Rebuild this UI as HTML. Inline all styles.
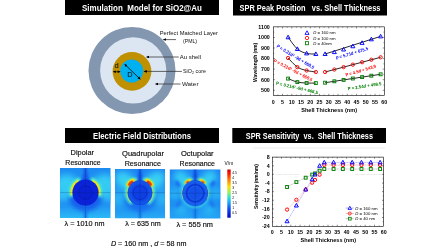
<!DOCTYPE html>
<html><head><meta charset="utf-8"><title>SPR of SiO2@Au core-shell</title>
<style>
html,body{margin:0;padding:0;background:#fff;}
body{width:448px;height:252px;overflow:hidden;font-family:"Liberation Sans",sans-serif;}
svg{display:block;font-family:"Liberation Sans",sans-serif;}
</style></head><body>
<svg width="448" height="252" viewBox="0 0 448 252">
<defs>
<marker id="ah" viewBox="0 0 10 10" refX="7" refY="5" markerWidth="3.5" markerHeight="3.4" orient="auto-start-reverse" markerUnits="userSpaceOnUse"><path d="M0 1.2 L10 5 L0 8.8 z" fill="#000"/></marker>
<marker id="as" viewBox="0 0 10 10" refX="7" refY="5" markerWidth="3.4" markerHeight="3.0" orient="auto-start-reverse" markerUnits="userSpaceOnUse"><path d="M0 0.8 L10 5 L0 9.2 z" fill="#000"/></marker>
<filter id="b1" x="-50%" y="-50%" width="200%" height="200%"><feGaussianBlur stdDeviation="1"/></filter>
<filter id="b2" x="-50%" y="-50%" width="200%" height="200%"><feGaussianBlur stdDeviation="2.2"/></filter>
<filter id="b3" x="-50%" y="-50%" width="200%" height="200%"><feGaussianBlur stdDeviation="3"/></filter>
<filter id="b4" x="-50%" y="-50%" width="200%" height="200%"><feGaussianBlur stdDeviation="4"/></filter>
<filter id="b05" x="-50%" y="-50%" width="200%" height="200%"><feGaussianBlur stdDeviation="0.6"/></filter>
<linearGradient id="jet" x1="0" y1="0" x2="0" y2="1">
<stop offset="0" stop-color="#c80000"/><stop offset="0.08" stop-color="#ff1000"/><stop offset="0.22" stop-color="#ff8000"/><stop offset="0.36" stop-color="#ffe000"/><stop offset="0.48" stop-color="#90f060"/><stop offset="0.58" stop-color="#30e0d0"/><stop offset="0.68" stop-color="#20a8f8"/><stop offset="0.82" stop-color="#1048f0"/><stop offset="1" stop-color="#0008c0"/>
</linearGradient>
<linearGradient id="bg1" x1="0" y1="0" x2="0" y2="1"><stop offset="0" stop-color="#1c88f2"/><stop offset="0.4" stop-color="#2098f3"/><stop offset="0.62" stop-color="#1b80f0"/><stop offset="1" stop-color="#2cbcf6"/></linearGradient>
<linearGradient id="bg2" x1="0" y1="0" x2="0" y2="1"><stop offset="0" stop-color="#1c84f2"/><stop offset="0.4" stop-color="#2094f3"/><stop offset="0.62" stop-color="#1c84f0"/><stop offset="1" stop-color="#28acf5"/></linearGradient>
<linearGradient id="bg3" x1="0" y1="0" x2="0" y2="1"><stop offset="0" stop-color="#1c80f2"/><stop offset="0.4" stop-color="#1f90f3"/><stop offset="0.62" stop-color="#1c88f0"/><stop offset="1" stop-color="#26a4f5"/></linearGradient>
<clipPath id="c1"><rect x="60" y="168" width="50.5" height="50"/></clipPath>
<clipPath id="c2"><rect x="115" y="169" width="50" height="49.3"/></clipPath>
<clipPath id="c3"><rect x="169.8" y="169.4" width="50.6" height="49.2"/></clipPath>
</defs>
<rect width="448" height="252" fill="#fff"/>

<rect x="65" y="0" width="154" height="15" fill="#000"/>
<text x="82" y="10.8" font-size="9.2" font-weight="bold" text-anchor="start" fill="#fff" textLength="120" lengthAdjust="spacingAndGlyphs" >Simulation  Model for SiO2@Au</text>
<rect x="233" y="0" width="154" height="15.5" fill="#000"/>
<text x="239.5" y="11.2" font-size="9.2" font-weight="bold" text-anchor="start" fill="#fff" textLength="141.0" lengthAdjust="spacingAndGlyphs" >SPR Peak Position   vs. Shell Thickness</text>
<rect x="65" y="128" width="154" height="15" fill="#000"/>
<text x="93" y="139" font-size="9.2" font-weight="bold" text-anchor="start" fill="#fff" textLength="98" lengthAdjust="spacingAndGlyphs" >Electric Field Distributions</text>
<rect x="232.3" y="128" width="153.7" height="15" fill="#000"/>
<text x="245.8" y="139" font-size="9.2" font-weight="bold" text-anchor="start" fill="#fff" textLength="127.19999999999999" lengthAdjust="spacingAndGlyphs" >SPR Sensitivity  vs.  Shell Thickness</text>
<circle cx="132" cy="70.5" r="43.5" fill="#8497b0"/>
<circle cx="133.2" cy="70.3" r="33.1" fill="#dce6f2"/>
<circle cx="132" cy="71.4" r="19.4" fill="#bf9000"/>
<circle cx="131.7" cy="71" r="11.5" fill="#00b0f0"/>
<line x1="113.7" y1="71.7" x2="119.7" y2="71.7" stroke="#000" stroke-width="0.6" marker-start="url(#as)" marker-end="url(#as)"/>
<line x1="125.0" y1="64.56" x2="140.0" y2="78.94" stroke="#000" stroke-width="0.8" marker-start="url(#ah)" marker-end="url(#ah)"/>
<text x="116.6" y="67.6" font-size="7.6" font-weight="normal" text-anchor="middle" fill="#000" >d</text>
<text x="129.8" y="77" font-size="7.4" font-weight="normal" text-anchor="middle" fill="#000" >D</text>
<text x="159.7" y="35.4" font-size="6.2" font-weight="normal" text-anchor="start" fill="#111" textLength="58.3" lengthAdjust="spacingAndGlyphs" >Perfect Matched Layer</text>
<text x="190" y="42.7" font-size="6.2" font-weight="normal" text-anchor="middle" fill="#111" textLength="14" lengthAdjust="spacingAndGlyphs" >(PML)</text>
<line x1="163.7" y1="39.6" x2="176" y2="39.6" stroke="#333" stroke-width="0.75" marker-start="url(#ah)"/>
<line x1="146.8" y1="57" x2="178.8" y2="57" stroke="#333" stroke-width="0.75" marker-start="url(#ah)"/>
<text x="179.7" y="59" font-size="6.2" font-weight="normal" text-anchor="start" fill="#111" textLength="21.3" lengthAdjust="spacingAndGlyphs" >Au shell</text>
<line x1="144.5" y1="71.4" x2="181.9" y2="71.4" stroke="#333" stroke-width="0.75" marker-start="url(#ah)"/>
<text x="183" y="73.4" font-size="6.2" fill="#111" textLength="23" lengthAdjust="spacingAndGlyphs">SiO<tspan font-size="4.2" dy="1">2</tspan><tspan dy="-1"> core</tspan></text>
<line x1="155.7" y1="84" x2="180.6" y2="84" stroke="#333" stroke-width="0.75" marker-start="url(#ah)"/>
<text x="181.9" y="86" font-size="6.2" font-weight="normal" text-anchor="start" fill="#111" textLength="16.6" lengthAdjust="spacingAndGlyphs" >Water</text>
<rect x="273.3" y="26.85" width="111.0" height="68.55000000000001" fill="#fff" stroke="#000" stroke-width="0.6"/>
<path d="M277.93 95.4v-0.9M277.93 26.85v0.9M282.55 95.4v-1.6M282.55 26.85v1.6M287.18 95.4v-0.9M287.18 26.85v0.9M291.80 95.4v-1.6M291.80 26.85v1.6M296.43 95.4v-0.9M296.43 26.85v0.9M301.05 95.4v-1.6M301.05 26.85v1.6M305.68 95.4v-0.9M305.68 26.85v0.9M310.30 95.4v-1.6M310.30 26.85v1.6M314.93 95.4v-0.9M314.93 26.85v0.9M319.55 95.4v-1.6M319.55 26.85v1.6M324.18 95.4v-0.9M324.18 26.85v0.9M328.80 95.4v-1.6M328.80 26.85v1.6M333.43 95.4v-0.9M333.43 26.85v0.9M338.05 95.4v-1.6M338.05 26.85v1.6M342.68 95.4v-0.9M342.68 26.85v0.9M347.30 95.4v-1.6M347.30 26.85v1.6M351.93 95.4v-0.9M351.93 26.85v0.9M356.55 95.4v-1.6M356.55 26.85v1.6M361.18 95.4v-0.9M361.18 26.85v0.9M365.80 95.4v-1.6M365.80 26.85v1.6M370.43 95.4v-0.9M370.43 26.85v0.9M375.05 95.4v-1.6M375.05 26.85v1.6M379.68 95.4v-0.9M379.68 26.85v0.9M273.3 90.27h1.6M384.3 90.27h-1.6M273.3 84.98h0.9M384.3 84.98h-0.9M273.3 79.70h1.6M384.3 79.70h-1.6M273.3 74.41h0.9M384.3 74.41h-0.9M273.3 69.13h1.6M384.3 69.13h-1.6M273.3 63.84h0.9M384.3 63.84h-0.9M273.3 58.56h1.6M384.3 58.56h-1.6M273.3 53.28h0.9M384.3 53.28h-0.9M273.3 47.99h1.6M384.3 47.99h-1.6M273.3 42.70h0.9M384.3 42.70h-0.9M273.3 37.42h1.6M384.3 37.42h-1.6M273.3 32.14h0.9M384.3 32.14h-0.9" stroke="#000" stroke-width="0.45" fill="none"/>
<text x="269.8" y="92.07" font-size="5.3" font-weight="bold" text-anchor="end" fill="#000" >500</text>
<text x="269.8" y="81.5" font-size="5.3" font-weight="bold" text-anchor="end" fill="#000" >600</text>
<text x="269.8" y="70.93" font-size="5.3" font-weight="bold" text-anchor="end" fill="#000" >700</text>
<text x="269.8" y="60.36" font-size="5.3" font-weight="bold" text-anchor="end" fill="#000" >800</text>
<text x="269.8" y="49.79" font-size="5.3" font-weight="bold" text-anchor="end" fill="#000" >900</text>
<text x="269.8" y="39.22" font-size="5.3" font-weight="bold" text-anchor="end" fill="#000" >1000</text>
<text x="269.8" y="28.65" font-size="5.3" font-weight="bold" text-anchor="end" fill="#000" >1100</text>
<text x="273.3" y="103.6" font-size="5.3" font-weight="bold" text-anchor="middle" fill="#000" >0</text>
<text x="282.55" y="103.6" font-size="5.3" font-weight="bold" text-anchor="middle" fill="#000" >5</text>
<text x="291.8" y="103.6" font-size="5.3" font-weight="bold" text-anchor="middle" fill="#000" >10</text>
<text x="301.05" y="103.6" font-size="5.3" font-weight="bold" text-anchor="middle" fill="#000" >15</text>
<text x="310.3" y="103.6" font-size="5.3" font-weight="bold" text-anchor="middle" fill="#000" >20</text>
<text x="319.55" y="103.6" font-size="5.3" font-weight="bold" text-anchor="middle" fill="#000" >25</text>
<text x="328.8" y="103.6" font-size="5.3" font-weight="bold" text-anchor="middle" fill="#000" >30</text>
<text x="338.05" y="103.6" font-size="5.3" font-weight="bold" text-anchor="middle" fill="#000" >35</text>
<text x="347.3" y="103.6" font-size="5.3" font-weight="bold" text-anchor="middle" fill="#000" >40</text>
<text x="356.55" y="103.6" font-size="5.3" font-weight="bold" text-anchor="middle" fill="#000" >45</text>
<text x="365.8" y="103.6" font-size="5.3" font-weight="bold" text-anchor="middle" fill="#000" >50</text>
<text x="375.05" y="103.6" font-size="5.3" font-weight="bold" text-anchor="middle" fill="#000" >55</text>
<text x="384.3" y="103.6" font-size="5.3" font-weight="bold" text-anchor="middle" fill="#000" >60</text>
<text x="329.1" y="111.6" font-size="5.7" font-weight="bold" text-anchor="middle" fill="#000" textLength="55.8" lengthAdjust="spacingAndGlyphs" >Shell Thickness (nm)</text>
<text x="257" y="62.4" font-size="5.7" font-weight="bold" text-anchor="middle" fill="#000" textLength="39" lengthAdjust="spacingAndGlyphs" transform="rotate(-90 257 62.4)" >Wavelength (nm)</text>
<path d="M288.10 37.30C289.64 39.25 294.27 46.32 297.35 49.00C300.43 51.68 303.52 52.57 306.60 53.40C309.68 54.23 314.31 53.90 315.85 54.00" fill="none" stroke="#111" stroke-width="0.9"/>
<line x1="325.10" y1="54.00" x2="380.60" y2="36.40" stroke="#111" stroke-width="0.9"/>
<path d="M288.10 35.20L290.10 38.80L286.10 38.80z" fill="none" stroke="#0000ff" stroke-width="0.95" stroke-linejoin="miter"/>
<path d="M297.35 46.90L299.35 50.50L295.35 50.50z" fill="none" stroke="#0000ff" stroke-width="0.95" stroke-linejoin="miter"/>
<path d="M306.60 51.30L308.60 54.90L304.60 54.90z" fill="none" stroke="#0000ff" stroke-width="0.95" stroke-linejoin="miter"/>
<path d="M315.85 51.90L317.85 55.50L313.85 55.50z" fill="none" stroke="#0000ff" stroke-width="0.95" stroke-linejoin="miter"/>
<path d="M325.10 51.90L327.10 55.50L323.10 55.50z" fill="none" stroke="#0000ff" stroke-width="0.95" stroke-linejoin="miter"/>
<path d="M334.35 50.00L336.35 53.60L332.35 53.60z" fill="none" stroke="#0000ff" stroke-width="0.95" stroke-linejoin="miter"/>
<path d="M343.60 47.40L345.60 51.00L341.60 51.00z" fill="none" stroke="#0000ff" stroke-width="0.95" stroke-linejoin="miter"/>
<path d="M352.85 44.15L354.85 47.75L350.85 47.75z" fill="none" stroke="#0000ff" stroke-width="0.95" stroke-linejoin="miter"/>
<path d="M362.10 40.80L364.10 44.40L360.10 44.40z" fill="none" stroke="#0000ff" stroke-width="0.95" stroke-linejoin="miter"/>
<path d="M371.35 37.20L373.35 40.80L369.35 40.80z" fill="none" stroke="#0000ff" stroke-width="0.95" stroke-linejoin="miter"/>
<path d="M380.60 34.30L382.60 37.90L378.60 37.90z" fill="none" stroke="#0000ff" stroke-width="0.95" stroke-linejoin="miter"/>
<path d="M288.10 58.00C289.64 59.52 294.27 65.02 297.35 67.10C300.43 69.18 303.52 69.68 306.60 70.50C309.68 71.32 314.31 71.75 315.85 72.00" fill="none" stroke="#111" stroke-width="0.9"/>
<line x1="325.10" y1="72.00" x2="380.60" y2="57.30" stroke="#111" stroke-width="0.9"/>
<circle cx="288.10" cy="58.00" r="1.65" fill="none" stroke="#ff0000" stroke-width="0.95"/>
<circle cx="297.35" cy="67.10" r="1.65" fill="none" stroke="#ff0000" stroke-width="0.95"/>
<circle cx="306.60" cy="70.50" r="1.65" fill="none" stroke="#ff0000" stroke-width="0.95"/>
<circle cx="315.85" cy="72.00" r="1.65" fill="none" stroke="#ff0000" stroke-width="0.95"/>
<circle cx="325.10" cy="72.00" r="1.65" fill="none" stroke="#ff0000" stroke-width="0.95"/>
<circle cx="334.35" cy="69.55" r="1.65" fill="none" stroke="#ff0000" stroke-width="0.95"/>
<circle cx="343.60" cy="67.10" r="1.65" fill="none" stroke="#ff0000" stroke-width="0.95"/>
<circle cx="352.85" cy="64.65" r="1.65" fill="none" stroke="#ff0000" stroke-width="0.95"/>
<circle cx="362.10" cy="62.20" r="1.65" fill="none" stroke="#ff0000" stroke-width="0.95"/>
<circle cx="371.35" cy="59.75" r="1.65" fill="none" stroke="#ff0000" stroke-width="0.95"/>
<circle cx="380.60" cy="57.30" r="1.65" fill="none" stroke="#ff0000" stroke-width="0.95"/>
<path d="M288.10 78.60C289.64 79.18 294.27 81.37 297.35 82.10C300.43 82.83 303.52 82.83 306.60 83.00C309.68 83.17 314.31 83.08 315.85 83.10" fill="none" stroke="#111" stroke-width="0.9"/>
<line x1="325.10" y1="82.70" x2="380.60" y2="74.30" stroke="#111" stroke-width="0.9"/>
<rect x="286.65" y="77.15" width="2.9" height="2.9" fill="none" stroke="#008000" stroke-width="0.95"/>
<rect x="295.90" y="80.65" width="2.9" height="2.9" fill="none" stroke="#008000" stroke-width="0.95"/>
<rect x="305.15" y="81.55" width="2.9" height="2.9" fill="none" stroke="#008000" stroke-width="0.95"/>
<rect x="314.40" y="81.65" width="2.9" height="2.9" fill="none" stroke="#008000" stroke-width="0.95"/>
<rect x="323.65" y="81.25" width="2.9" height="2.9" fill="none" stroke="#008000" stroke-width="0.95"/>
<rect x="332.90" y="79.85" width="2.9" height="2.9" fill="none" stroke="#008000" stroke-width="0.95"/>
<rect x="342.15" y="78.45" width="2.9" height="2.9" fill="none" stroke="#008000" stroke-width="0.95"/>
<rect x="351.40" y="77.05" width="2.9" height="2.9" fill="none" stroke="#008000" stroke-width="0.95"/>
<rect x="360.65" y="75.65" width="2.9" height="2.9" fill="none" stroke="#008000" stroke-width="0.95"/>
<rect x="369.90" y="74.25" width="2.9" height="2.9" fill="none" stroke="#008000" stroke-width="0.95"/>
<rect x="379.15" y="72.85" width="2.9" height="2.9" fill="none" stroke="#008000" stroke-width="0.95"/>
<text x="295.4" y="56.9" font-size="4.6" font-weight="bold" text-anchor="middle" fill="#0000ff" textLength="43" lengthAdjust="spacingAndGlyphs" transform="rotate(31 295.4 56.9)" dy="1.4">P = 0.21d<tspan font-size="2.8" dy="-1.2">2</tspan><tspan dy="1.2"> -9d + 668.5</tspan></text>
<text x="293" y="70.4" font-size="4.6" font-weight="bold" text-anchor="middle" fill="#ff0000" textLength="43" lengthAdjust="spacingAndGlyphs" transform="rotate(27.5 293 70.4)" dy="1.4">P = 0.21d<tspan font-size="2.8" dy="-1.2">2</tspan><tspan dy="1.2"> -9d + 668.5</tspan></text>
<text x="297" y="88" font-size="4.6" font-weight="bold" text-anchor="middle" fill="#008000" textLength="43" lengthAdjust="spacingAndGlyphs" transform="rotate(13 297 88)" dy="1.4">P = 0.21d<tspan font-size="2.8" dy="-1.2">2</tspan><tspan dy="1.2"> -9d + 668.5</tspan></text>
<text x="352" y="53.5" font-size="4.6" font-weight="bold" text-anchor="middle" fill="#0000ff" textLength="33.5" lengthAdjust="spacingAndGlyphs" transform="rotate(-17 352 53.5)" dy="1.4">P = 5.71d + 675.5</text>
<text x="360.8" y="70.8" font-size="4.6" font-weight="bold" text-anchor="middle" fill="#ff0000" textLength="31.5" lengthAdjust="spacingAndGlyphs" transform="rotate(-16.5 360.8 70.8)" dy="1.4">P = 4.5d + 543.9</text>
<text x="364.6" y="86.3" font-size="4.6" font-weight="bold" text-anchor="middle" fill="#008000" textLength="34" lengthAdjust="spacingAndGlyphs" transform="rotate(-9 364.6 86.3)" dy="1.4">P = 2.54d + 498.5</text>
<path d="M307.00 30.80L309.00 34.40L305.00 34.40z" fill="none" stroke="#0000ff" stroke-width="0.85" stroke-linejoin="miter"/>
<text x="313.2" y="34.4" font-size="4.3" fill="#000"><tspan font-style="italic">D</tspan> = 160 nm</text>
<circle cx="307.00" cy="38.00" r="1.7" fill="none" stroke="#ff0000" stroke-width="0.85"/>
<text x="313.2" y="39.5" font-size="4.3" fill="#000"><tspan font-style="italic">D</tspan> = 100 nm</text>
<rect x="305.45" y="41.65" width="3.1" height="3.1" fill="none" stroke="#008000" stroke-width="0.85"/>
<text x="313.2" y="44.7" font-size="4.3" fill="#000"><tspan font-style="italic">D</tspan> = 40nm</text>
<rect x="253" y="147.2" width="132" height="1.6" fill="#f4f4f4"/>
<rect x="272.3" y="157.1" width="111.30000000000001" height="69.20000000000002" fill="#fff" stroke="#000" stroke-width="0.6"/>
<path d="M276.85 226.3v-0.9M276.85 157.1v0.9M281.50 226.3v-1.6M281.50 157.1v1.6M286.15 226.3v-0.9M286.15 157.1v0.9M290.80 226.3v-1.6M290.80 157.1v1.6M295.45 226.3v-0.9M295.45 157.1v0.9M300.10 226.3v-1.6M300.10 157.1v1.6M304.75 226.3v-0.9M304.75 157.1v0.9M309.40 226.3v-1.6M309.40 157.1v1.6M314.05 226.3v-0.9M314.05 157.1v0.9M318.70 226.3v-1.6M318.70 157.1v1.6M323.35 226.3v-0.9M323.35 157.1v0.9M328.00 226.3v-1.6M328.00 157.1v1.6M332.65 226.3v-0.9M332.65 157.1v0.9M337.30 226.3v-1.6M337.30 157.1v1.6M341.95 226.3v-0.9M341.95 157.1v0.9M346.60 226.3v-1.6M346.60 157.1v1.6M351.25 226.3v-0.9M351.25 157.1v0.9M355.90 226.3v-1.6M355.90 157.1v1.6M360.55 226.3v-0.9M360.55 157.1v0.9M365.20 226.3v-1.6M365.20 157.1v1.6M369.85 226.3v-0.9M369.85 157.1v0.9M374.50 226.3v-1.6M374.50 157.1v1.6M379.15 226.3v-0.9M379.15 157.1v0.9M272.3 221.83h0.9M383.6 221.83h-0.9M272.3 217.52h1.6M383.6 217.52h-1.6M272.3 213.21h0.9M383.6 213.21h-0.9M272.3 208.90h1.6M383.6 208.90h-1.6M272.3 204.58h0.9M383.6 204.58h-0.9M272.3 200.27h1.6M383.6 200.27h-1.6M272.3 195.96h0.9M383.6 195.96h-0.9M272.3 191.65h1.6M383.6 191.65h-1.6M272.3 187.34h0.9M383.6 187.34h-0.9M272.3 183.02h1.6M383.6 183.02h-1.6M272.3 178.71h0.9M383.6 178.71h-0.9M272.3 174.40h1.6M383.6 174.40h-1.6M272.3 170.09h0.9M383.6 170.09h-0.9M272.3 165.78h1.6M383.6 165.78h-1.6M272.3 161.46h0.9M383.6 161.46h-0.9" stroke="#000" stroke-width="0.45" fill="none"/>
<text x="269.6" y="227.94" font-size="5.3" font-weight="bold" text-anchor="end" fill="#000" >-24</text>
<text x="269.6" y="219.32" font-size="5.3" font-weight="bold" text-anchor="end" fill="#000" >-20</text>
<text x="269.6" y="210.7" font-size="5.3" font-weight="bold" text-anchor="end" fill="#000" >-16</text>
<text x="269.6" y="202.07" font-size="5.3" font-weight="bold" text-anchor="end" fill="#000" >-12</text>
<text x="269.6" y="193.45" font-size="5.3" font-weight="bold" text-anchor="end" fill="#000" >-8</text>
<text x="269.6" y="184.82" font-size="5.3" font-weight="bold" text-anchor="end" fill="#000" >-4</text>
<text x="269.6" y="176.2" font-size="5.3" font-weight="bold" text-anchor="end" fill="#000" >0</text>
<text x="269.6" y="167.58" font-size="5.3" font-weight="bold" text-anchor="end" fill="#000" >4</text>
<text x="269.6" y="158.95" font-size="5.3" font-weight="bold" text-anchor="end" fill="#000" >8</text>
<text x="272.2" y="233.7" font-size="5.3" font-weight="bold" text-anchor="middle" fill="#000" >0</text>
<text x="281.5" y="233.7" font-size="5.3" font-weight="bold" text-anchor="middle" fill="#000" >5</text>
<text x="290.8" y="233.7" font-size="5.3" font-weight="bold" text-anchor="middle" fill="#000" >10</text>
<text x="300.1" y="233.7" font-size="5.3" font-weight="bold" text-anchor="middle" fill="#000" >15</text>
<text x="309.4" y="233.7" font-size="5.3" font-weight="bold" text-anchor="middle" fill="#000" >20</text>
<text x="318.7" y="233.7" font-size="5.3" font-weight="bold" text-anchor="middle" fill="#000" >25</text>
<text x="328.0" y="233.7" font-size="5.3" font-weight="bold" text-anchor="middle" fill="#000" >30</text>
<text x="337.3" y="233.7" font-size="5.3" font-weight="bold" text-anchor="middle" fill="#000" >35</text>
<text x="346.6" y="233.7" font-size="5.3" font-weight="bold" text-anchor="middle" fill="#000" >40</text>
<text x="355.9" y="233.7" font-size="5.3" font-weight="bold" text-anchor="middle" fill="#000" >45</text>
<text x="365.2" y="233.7" font-size="5.3" font-weight="bold" text-anchor="middle" fill="#000" >50</text>
<text x="374.5" y="233.7" font-size="5.3" font-weight="bold" text-anchor="middle" fill="#000" >55</text>
<text x="383.8" y="233.7" font-size="5.3" font-weight="bold" text-anchor="middle" fill="#000" >60</text>
<text x="328.3" y="242.2" font-size="5.7" font-weight="bold" text-anchor="middle" fill="#000" textLength="55.4" lengthAdjust="spacingAndGlyphs" >Shell Thickness (nm)</text>
<text x="257.7" y="186.5" font-size="5.9" font-weight="bold" text-anchor="middle" fill="#000" textLength="45" lengthAdjust="spacingAndGlyphs" transform="rotate(-90 257.7 186.5)" >Sensitivity (nm/nm)</text>
<path d="M275.7 174.5H299.8M355 174.5H383" stroke="#bbb" stroke-width="0.5" stroke-dasharray="0.6 0.6"/>
<polyline points="287.08,187.00 296.38,182.10 305.68,177.70 312.19,174.60 314.98,173.40 319.63,170.70 324.28,169.00 333.58,169.00 342.88,169.00 352.18,169.00 361.48,169.00 370.78,169.00 380.08,169.00" fill="none" stroke="#888" stroke-width="0.5" stroke-dasharray="1 0.5"/>
<polyline points="287.08,209.60 296.38,199.80 305.68,189.50 312.19,182.70 314.98,180.00 319.63,174.70 324.28,165.00 333.58,165.00 342.88,165.00 352.18,165.00 361.48,165.00 370.78,165.00 380.08,165.00" fill="none" stroke="#ff7070" stroke-width="0.5" stroke-dasharray="1 0.5"/>
<polyline points="287.08,221.25 296.38,205.50 305.68,189.50 312.19,179.30 314.98,174.50 319.63,165.80 324.28,162.40 333.58,162.40 342.88,162.40 352.18,162.40 361.48,162.40 370.78,162.40 380.08,162.40" fill="none" stroke="#6060ff" stroke-width="0.5" stroke-dasharray="1 0.5"/>
<rect x="285.63" y="185.55" width="2.9" height="2.9" fill="none" stroke="#008000" stroke-width="0.95"/>
<rect x="294.93" y="180.65" width="2.9" height="2.9" fill="none" stroke="#008000" stroke-width="0.95"/>
<rect x="304.23" y="176.25" width="2.9" height="2.9" fill="none" stroke="#008000" stroke-width="0.95"/>
<rect x="310.74" y="173.15" width="2.9" height="2.9" fill="none" stroke="#008000" stroke-width="0.95"/>
<rect x="313.53" y="171.95" width="2.9" height="2.9" fill="none" stroke="#008000" stroke-width="0.95"/>
<rect x="318.18" y="169.25" width="2.9" height="2.9" fill="none" stroke="#008000" stroke-width="0.95"/>
<rect x="322.83" y="167.55" width="2.9" height="2.9" fill="none" stroke="#008000" stroke-width="0.95"/>
<rect x="332.13" y="167.55" width="2.9" height="2.9" fill="none" stroke="#008000" stroke-width="0.95"/>
<rect x="341.43" y="167.55" width="2.9" height="2.9" fill="none" stroke="#008000" stroke-width="0.95"/>
<rect x="350.73" y="167.55" width="2.9" height="2.9" fill="none" stroke="#008000" stroke-width="0.95"/>
<rect x="360.03" y="167.55" width="2.9" height="2.9" fill="none" stroke="#008000" stroke-width="0.95"/>
<rect x="369.33" y="167.55" width="2.9" height="2.9" fill="none" stroke="#008000" stroke-width="0.95"/>
<rect x="378.63" y="167.55" width="2.9" height="2.9" fill="none" stroke="#008000" stroke-width="0.95"/>
<circle cx="287.08" cy="209.60" r="1.65" fill="none" stroke="#ff0000" stroke-width="0.95"/>
<circle cx="296.38" cy="199.80" r="1.65" fill="none" stroke="#ff0000" stroke-width="0.95"/>
<circle cx="305.68" cy="189.50" r="1.65" fill="none" stroke="#ff0000" stroke-width="0.95"/>
<circle cx="312.19" cy="182.70" r="1.65" fill="none" stroke="#ff0000" stroke-width="0.95"/>
<circle cx="314.98" cy="180.00" r="1.65" fill="none" stroke="#ff0000" stroke-width="0.95"/>
<circle cx="319.63" cy="174.70" r="1.65" fill="none" stroke="#ff0000" stroke-width="0.95"/>
<circle cx="324.28" cy="165.00" r="1.65" fill="none" stroke="#ff0000" stroke-width="0.95"/>
<circle cx="333.58" cy="165.00" r="1.65" fill="none" stroke="#ff0000" stroke-width="0.95"/>
<circle cx="342.88" cy="165.00" r="1.65" fill="none" stroke="#ff0000" stroke-width="0.95"/>
<circle cx="352.18" cy="165.00" r="1.65" fill="none" stroke="#ff0000" stroke-width="0.95"/>
<circle cx="361.48" cy="165.00" r="1.65" fill="none" stroke="#ff0000" stroke-width="0.95"/>
<circle cx="370.78" cy="165.00" r="1.65" fill="none" stroke="#ff0000" stroke-width="0.95"/>
<circle cx="380.08" cy="165.00" r="1.65" fill="none" stroke="#ff0000" stroke-width="0.95"/>
<path d="M287.08 219.15L289.08 222.75L285.08 222.75z" fill="none" stroke="#0000ff" stroke-width="0.95" stroke-linejoin="miter"/>
<path d="M296.38 203.40L298.38 207.00L294.38 207.00z" fill="none" stroke="#0000ff" stroke-width="0.95" stroke-linejoin="miter"/>
<path d="M305.68 187.40L307.68 191.00L303.68 191.00z" fill="none" stroke="#0000ff" stroke-width="0.95" stroke-linejoin="miter"/>
<path d="M312.19 177.20L314.19 180.80L310.19 180.80z" fill="none" stroke="#0000ff" stroke-width="0.95" stroke-linejoin="miter"/>
<path d="M314.98 172.40L316.98 176.00L312.98 176.00z" fill="none" stroke="#0000ff" stroke-width="0.95" stroke-linejoin="miter"/>
<path d="M319.63 163.70L321.63 167.30L317.63 167.30z" fill="none" stroke="#0000ff" stroke-width="0.95" stroke-linejoin="miter"/>
<path d="M324.28 160.30L326.28 163.90L322.28 163.90z" fill="none" stroke="#0000ff" stroke-width="0.95" stroke-linejoin="miter"/>
<path d="M333.58 160.30L335.58 163.90L331.58 163.90z" fill="none" stroke="#0000ff" stroke-width="0.95" stroke-linejoin="miter"/>
<path d="M342.88 160.30L344.88 163.90L340.88 163.90z" fill="none" stroke="#0000ff" stroke-width="0.95" stroke-linejoin="miter"/>
<path d="M352.18 160.30L354.18 163.90L350.18 163.90z" fill="none" stroke="#0000ff" stroke-width="0.95" stroke-linejoin="miter"/>
<path d="M361.48 160.30L363.48 163.90L359.48 163.90z" fill="none" stroke="#0000ff" stroke-width="0.95" stroke-linejoin="miter"/>
<path d="M370.78 160.30L372.78 163.90L368.78 163.90z" fill="none" stroke="#0000ff" stroke-width="0.95" stroke-linejoin="miter"/>
<path d="M380.08 160.30L382.08 163.90L378.08 163.90z" fill="none" stroke="#0000ff" stroke-width="0.95" stroke-linejoin="miter"/>
<line x1="345.7" y1="208.1" x2="353.8" y2="208.1" stroke="#6060ff" stroke-width="0.5"/>
<path d="M349.80 206.21L351.60 209.45L348.00 209.45z" fill="none" stroke="#0000ff" stroke-width="0.8" stroke-linejoin="miter"/>
<text x="355.2" y="209.6" font-size="4.3" fill="#000"><tspan font-style="italic">D</tspan> = 160 nm</text>
<line x1="345.7" y1="213.5" x2="353.8" y2="213.5" stroke="#ff7070" stroke-width="0.5"/>
<circle cx="349.80" cy="213.50" r="1.5" fill="none" stroke="#ff0000" stroke-width="0.8"/>
<text x="355.2" y="215.0" font-size="4.3" fill="#000"><tspan font-style="italic">D</tspan> = 100 nm</text>
<line x1="345.7" y1="218.7" x2="353.8" y2="218.7" stroke="#888" stroke-width="0.5"/>
<rect x="348.40" y="217.30" width="2.8" height="2.8" fill="none" stroke="#008000" stroke-width="0.8"/>
<text x="355.2" y="220.2" font-size="4.3" fill="#000"><tspan font-style="italic">D</tspan> = 40 nm</text>
<g clip-path="url(#c1)">
<rect x="59" y="167" width="52.5" height="52" fill="url(#bg1)"/>
<ellipse cx="66.50" cy="186.60" rx="12" ry="12" fill="#36ccf4" filter="url(#b3)" opacity="1" transform="rotate(0.0 66.50 186.60)"/>
<ellipse cx="61.50" cy="195.60" rx="7" ry="6" fill="#30c0f4" filter="url(#b3)" opacity="0.9" transform="rotate(0.0 61.50 195.60)"/>
<ellipse cx="104.50" cy="186.60" rx="12" ry="12" fill="#36ccf4" filter="url(#b3)" opacity="1" transform="rotate(0.0 104.50 186.60)"/>
<ellipse cx="109.50" cy="195.60" rx="7" ry="6" fill="#30c0f4" filter="url(#b3)" opacity="0.9" transform="rotate(0.0 109.50 195.60)"/>
<ellipse cx="85.50" cy="198.60" rx="15.5" ry="12.5" fill="#1560ec" filter="url(#b2)" opacity="1" transform="rotate(0.0 85.50 198.60)"/>
<path d="M84.7 166L86.3 166L89.5 183.6L81.5 183.6z" fill="#1456e8" filter="url(#b1)"/>
<rect x="83.9" y="202.6" width="3.2" height="20" fill="#1970ee" filter="url(#b1)" opacity="0.8"/>
<path d="M71.02 195.15A14.7 14.7 0 0 1 78.15 179.87" stroke="#58ecc0" stroke-width="4.2" fill="none" filter="url(#b1)" stroke-linecap="round" opacity="1"/>
<path d="M71.58 194.06A14.0 14.0 0 0 1 77.67 180.99" stroke="#c8f040" stroke-width="2.4" fill="none" filter="url(#b05)" stroke-linecap="round" opacity="1"/>
<path d="M71.91 193.07A13.6 13.6 0 0 1 77.13 181.88" stroke="#ffe000" stroke-width="1.5" fill="none" filter="url(#b05)" stroke-linecap="round" opacity="1"/>
<path d="M99.98 195.15A14.7 14.7 0 0 0 92.85 179.87" stroke="#58ecc0" stroke-width="4.2" fill="none" filter="url(#b1)" stroke-linecap="round" opacity="1"/>
<path d="M99.42 194.06A14.0 14.0 0 0 0 93.33 180.99" stroke="#c8f040" stroke-width="2.4" fill="none" filter="url(#b05)" stroke-linecap="round" opacity="1"/>
<path d="M99.09 193.07A13.6 13.6 0 0 0 93.87 181.88" stroke="#ffe000" stroke-width="1.5" fill="none" filter="url(#b05)" stroke-linecap="round" opacity="1"/>
<circle cx="85.5" cy="192.6" r="13.1" fill="#0a22d8"/>
<circle cx="85.5" cy="192.6" r="6.8" fill="#0a20d4" stroke="#061c98" stroke-width="0.5"/>
<path d="M85.5 168V218M60 192.6H110.5" stroke="#04246a" stroke-width="0.4" opacity="0.55"/>
</g>
<g clip-path="url(#c2)">
<rect x="114" y="168" width="52" height="51.3" fill="url(#bg2)"/>
<ellipse cx="125.00" cy="180.70" rx="11" ry="8" fill="#38d0f4" filter="url(#b3)" opacity="1" transform="rotate(40.0 125.00 180.70)"/>
<ellipse cx="118.00" cy="198.70" rx="7" ry="8" fill="#2cb8f4" filter="url(#b3)" opacity="0.9" transform="rotate(0.0 118.00 198.70)"/>
<ellipse cx="155.00" cy="180.70" rx="11" ry="8" fill="#38d0f4" filter="url(#b3)" opacity="1" transform="rotate(-40.0 155.00 180.70)"/>
<ellipse cx="162.00" cy="198.70" rx="7" ry="8" fill="#2cb8f4" filter="url(#b3)" opacity="0.9" transform="rotate(0.0 162.00 198.70)"/>
<ellipse cx="140.00" cy="201.70" rx="14" ry="10" fill="#1766ee" filter="url(#b2)" opacity="0.8" transform="rotate(0.0 140.00 201.70)"/>
<path d="M139.2 167L140.8 167L143 183.7L137 183.7z" fill="#1250e6" filter="url(#b1)"/>
<rect x="138.6" y="202.7" width="2.8" height="20" fill="#1970ee" filter="url(#b1)" opacity="0.7"/>
<path d="M130.90 202.81A13.6 13.6 0 0 1 135.80 179.77" stroke="#50e8c8" stroke-width="3.2" fill="none" filter="url(#b1)" stroke-linecap="round" opacity="1"/>
<path d="M130.41 201.33A12.9 12.9 0 0 1 128.83 186.25" stroke="#d0f038" stroke-width="1.1" fill="none" filter="url(#b05)" stroke-linecap="round" opacity="1"/>
<ellipse cx="130.86" cy="182.90" rx="6" ry="3.8" fill="#70f0a0" filter="url(#b1)" opacity="1" transform="rotate(-43.0 130.86 182.90)"/>
<ellipse cx="130.86" cy="182.90" rx="5" ry="2.8" fill="#ffd800" filter="url(#b05)" opacity="1" transform="rotate(-43.0 130.86 182.90)"/>
<ellipse cx="130.66" cy="183.20" rx="3.2" ry="1.6" fill="#f03000" filter="url(#b05)" opacity="1" transform="rotate(-43.0 130.66 183.20)"/>
<path d="M149.10 202.81A13.6 13.6 0 0 0 144.20 179.77" stroke="#50e8c8" stroke-width="3.2" fill="none" filter="url(#b1)" stroke-linecap="round" opacity="1"/>
<path d="M149.59 201.33A12.9 12.9 0 0 0 151.17 186.25" stroke="#d0f038" stroke-width="1.1" fill="none" filter="url(#b05)" stroke-linecap="round" opacity="1"/>
<ellipse cx="149.14" cy="182.90" rx="6" ry="3.8" fill="#70f0a0" filter="url(#b1)" opacity="1" transform="rotate(43.0 149.14 182.90)"/>
<ellipse cx="149.14" cy="182.90" rx="5" ry="2.8" fill="#ffd800" filter="url(#b05)" opacity="1" transform="rotate(43.0 149.14 182.90)"/>
<ellipse cx="149.34" cy="183.20" rx="3.2" ry="1.6" fill="#f03000" filter="url(#b05)" opacity="1" transform="rotate(43.0 149.34 183.20)"/>
<circle cx="140" cy="192.7" r="12.4" fill="#1040e4"/>
<circle cx="140" cy="192.7" r="10.6" fill="none" stroke="#1868ee" stroke-width="2.4" filter="url(#b1)" opacity="0.7"/>
<circle cx="140" cy="192.7" r="6.8" fill="#0e3ee4" stroke="#0828a8" stroke-width="0.5"/>
<path d="M140 169V218.3M115 192.7H165" stroke="#04246a" stroke-width="0.4" opacity="0.55"/>
</g>
<g clip-path="url(#c3)">
<rect x="168.8" y="168.4" width="52.6" height="51.2" fill="url(#bg3)"/>
<ellipse cx="182.20" cy="179.20" rx="10" ry="7" fill="#34ccf4" filter="url(#b3)" opacity="1" transform="rotate(50.0 182.20 179.20)"/>
<ellipse cx="174.20" cy="194.20" rx="6" ry="6" fill="#2cb8f4" filter="url(#b3)" opacity="0.9" transform="rotate(0.0 174.20 194.20)"/>
<ellipse cx="181.20" cy="210.20" rx="6" ry="6" fill="#2cb8f4" filter="url(#b3)" opacity="0.9" transform="rotate(0.0 181.20 210.20)"/>
<ellipse cx="208.20" cy="179.20" rx="10" ry="7" fill="#34ccf4" filter="url(#b3)" opacity="1" transform="rotate(-50.0 208.20 179.20)"/>
<ellipse cx="216.20" cy="194.20" rx="6" ry="6" fill="#2cb8f4" filter="url(#b3)" opacity="0.9" transform="rotate(0.0 216.20 194.20)"/>
<ellipse cx="209.20" cy="210.20" rx="6" ry="6" fill="#2cb8f4" filter="url(#b3)" opacity="0.9" transform="rotate(0.0 209.20 210.20)"/>
<path d="M194.39999999999998 167.4L196.0 167.4L198.2 184.2L192.2 184.2z" fill="#1250e6" filter="url(#b1)"/>
<rect x="193.79999999999998" y="203.2" width="2.8" height="20" fill="#1970ee" filter="url(#b1)" opacity="0.7"/>
<ellipse cx="177.70" cy="183.70" rx="3.5" ry="2" fill="#1666ee" filter="url(#b1)" opacity="0.9" transform="rotate(60.0 177.70 183.70)"/>
<ellipse cx="178.20" cy="204.20" rx="3.5" ry="2" fill="#1a70ee" filter="url(#b1)" opacity="0.8" transform="rotate(-55.0 178.20 204.20)"/>
<path d="M194.72 206.89A13.700000000000001 13.700000000000001 0 0 1 192.82 179.71" stroke="#40dce0" stroke-width="2.2" fill="none" filter="url(#b1)" stroke-linecap="round" opacity="0.9"/>
<path d="M182.87 198.18A13.3 13.3 0 0 1 182.87 188.22" stroke="#c8f040" stroke-width="1.0" fill="none" filter="url(#b05)" stroke-linecap="round" opacity="1"/>
<ellipse cx="187.94" cy="181.58" rx="4.6" ry="2.8" fill="#70f0a0" filter="url(#b1)" opacity="1" transform="rotate(-32.0 187.94 181.58)"/>
<ellipse cx="187.94" cy="181.58" rx="3.6" ry="1.9" fill="#ffd800" filter="url(#b05)" opacity="1" transform="rotate(-32.0 187.94 181.58)"/>
<ellipse cx="187.34" cy="182.08" rx="1.8" ry="0.9" fill="#f03800" filter="url(#b05)" opacity="1" transform="rotate(-32.0 187.34 182.08)"/>
<ellipse cx="212.70" cy="183.70" rx="3.5" ry="2" fill="#1666ee" filter="url(#b1)" opacity="0.9" transform="rotate(-60.0 212.70 183.70)"/>
<ellipse cx="212.20" cy="204.20" rx="3.5" ry="2" fill="#1a70ee" filter="url(#b1)" opacity="0.8" transform="rotate(55.0 212.20 204.20)"/>
<path d="M195.68 206.89A13.700000000000001 13.700000000000001 0 0 0 197.58 179.71" stroke="#40dce0" stroke-width="2.2" fill="none" filter="url(#b1)" stroke-linecap="round" opacity="0.9"/>
<path d="M207.53 198.18A13.3 13.3 0 0 0 207.53 188.22" stroke="#c8f040" stroke-width="1.0" fill="none" filter="url(#b05)" stroke-linecap="round" opacity="1"/>
<ellipse cx="202.46" cy="181.58" rx="4.6" ry="2.8" fill="#70f0a0" filter="url(#b1)" opacity="1" transform="rotate(32.0 202.46 181.58)"/>
<ellipse cx="202.46" cy="181.58" rx="3.6" ry="1.9" fill="#ffd800" filter="url(#b05)" opacity="1" transform="rotate(32.0 202.46 181.58)"/>
<ellipse cx="203.06" cy="182.08" rx="1.8" ry="0.9" fill="#f03800" filter="url(#b05)" opacity="1" transform="rotate(32.0 203.06 182.08)"/>
<circle cx="195.2" cy="193.2" r="12.9" fill="#1248e8"/>
<circle cx="195.2" cy="193.2" r="11.3" fill="none" stroke="#1c74f0" stroke-width="2.4" filter="url(#b1)" opacity="0.8"/>
<circle cx="195.2" cy="193.2" r="8.6" fill="none" stroke="#0c34d8" stroke-width="1.6" filter="url(#b05)" opacity="0.8"/>
<circle cx="195.2" cy="193.2" r="7.1" fill="#1450ea" stroke="#1c78d8" stroke-width="0.5"/>
<path d="M195.2 169.4V218.60000000000002M169.8 193.2H220.4" stroke="#04246a" stroke-width="0.4" opacity="0.55"/>
</g>
<text x="82.3" y="155.3" font-size="7.9" font-weight="normal" text-anchor="middle" fill="#111" textLength="23.4" lengthAdjust="spacingAndGlyphs" stroke="#111" stroke-width="0.18">Dipolar</text>
<text x="83" y="165.1" font-size="7.9" font-weight="normal" text-anchor="middle" fill="#111" textLength="35.3" lengthAdjust="spacingAndGlyphs" stroke="#111" stroke-width="0.18">Resonance</text>
<text x="143" y="156" font-size="7.9" font-weight="normal" text-anchor="middle" fill="#111" textLength="41.8" lengthAdjust="spacingAndGlyphs" stroke="#111" stroke-width="0.18">Quadrupolar</text>
<text x="142.8" y="165.8" font-size="7.9" font-weight="normal" text-anchor="middle" fill="#111" textLength="36.3" lengthAdjust="spacingAndGlyphs" stroke="#111" stroke-width="0.18">Resonance</text>
<text x="197.3" y="156" font-size="7.9" font-weight="normal" text-anchor="middle" fill="#111" textLength="32.6" lengthAdjust="spacingAndGlyphs" stroke="#111" stroke-width="0.18">Octupolar</text>
<text x="197.3" y="165.8" font-size="7.9" font-weight="normal" text-anchor="middle" fill="#111" textLength="35.4" lengthAdjust="spacingAndGlyphs" stroke="#111" stroke-width="0.18">Resonance</text>
<text x="84.6" y="225.5" font-size="7.9" font-weight="normal" text-anchor="middle" fill="#111" textLength="40" lengthAdjust="spacingAndGlyphs" stroke="#111" stroke-width="0.18">λ = 1010 nm</text>
<text x="143" y="226.4" font-size="7.9" font-weight="normal" text-anchor="middle" fill="#111" textLength="35.7" lengthAdjust="spacingAndGlyphs" stroke="#111" stroke-width="0.18">λ = 635 nm</text>
<text x="194.7" y="227" font-size="7.9" font-weight="normal" text-anchor="middle" fill="#111" textLength="36.6" lengthAdjust="spacingAndGlyphs" stroke="#111" stroke-width="0.18">λ = 555 nm</text>
<text x="148.7" y="246.2" font-size="7.9" text-anchor="middle" fill="#111" stroke="#111" stroke-width="0.18" textLength="75.6" lengthAdjust="spacingAndGlyphs"><tspan font-style="italic">D</tspan> = 160 nm , <tspan font-style="italic">d</tspan> = 58 nm</text>
<text x="228.9" y="164.9" font-size="5.6" font-weight="normal" text-anchor="middle" fill="#000" textLength="8.6" lengthAdjust="spacingAndGlyphs" >V/m</text>
<rect x="227.3" y="169.5" width="3.4" height="48.2" fill="url(#jet)"/>
<text x="232.2" y="173.6" font-size="3.4" font-weight="normal" text-anchor="start" fill="#000" >4.5</text>
<text x="232.2" y="178.6" font-size="3.4" font-weight="normal" text-anchor="start" fill="#000" >4</text>
<text x="232.2" y="183.6" font-size="3.4" font-weight="normal" text-anchor="start" fill="#000" >3.5</text>
<text x="232.2" y="188.6" font-size="3.4" font-weight="normal" text-anchor="start" fill="#000" >3</text>
<text x="232.2" y="193.6" font-size="3.4" font-weight="normal" text-anchor="start" fill="#000" >2.5</text>
<text x="232.2" y="198.6" font-size="3.4" font-weight="normal" text-anchor="start" fill="#000" >2</text>
<text x="232.2" y="203.6" font-size="3.4" font-weight="normal" text-anchor="start" fill="#000" >1.5</text>
<text x="232.2" y="208.6" font-size="3.4" font-weight="normal" text-anchor="start" fill="#000" >1</text>
<text x="232.2" y="213.6" font-size="3.4" font-weight="normal" text-anchor="start" fill="#000" >0.5</text>
</svg></body></html>
